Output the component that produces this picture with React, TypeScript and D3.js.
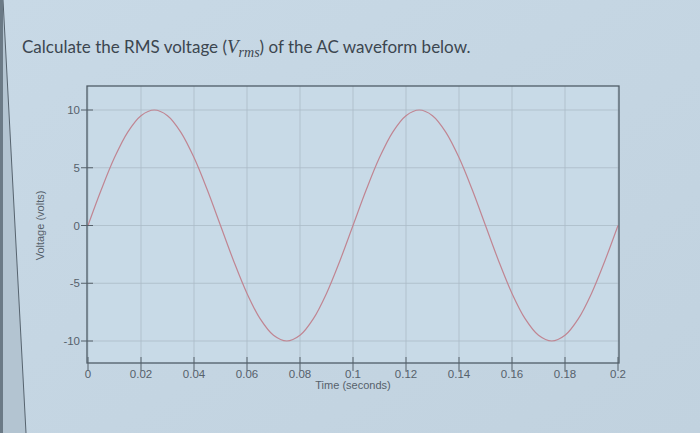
import React from "react";
import * as d3 from "d3";

// Time samples (s) and voltage readings (V)
const times: number[] = [
  0, 0.005, 0.01, 0.015, 0.02, 0.025, 0.03, 0.035, 0.04, 0.045, 0.05,
  0.055, 0.06, 0.065, 0.07, 0.075, 0.08, 0.085, 0.09, 0.095, 0.1,
  0.105, 0.11, 0.115, 0.12, 0.125, 0.13, 0.135, 0.14, 0.145, 0.15,
  0.155, 0.16, 0.165, 0.17, 0.175, 0.18, 0.185, 0.19, 0.195, 0.2,
];
const voltages: number[] = [
  0, 3.09, 5.88, 8.09, 9.51, 10, 9.51, 8.09, 5.88, 3.09, 0,
  -3.09, -5.88, -8.09, -9.51, -10, -9.51, -8.09, -5.88, -3.09, 0,
  3.09, 5.88, 8.09, 9.51, 10, 9.51, 8.09, 5.88, 3.09, 0,
  -3.09, -5.88, -8.09, -9.51, -10, -9.51, -8.09, -5.88, -3.09, 0,
];
const xTicks: number[] = [0, 0.02, 0.04, 0.06, 0.08, 0.1, 0.12, 0.14, 0.16, 0.18, 0.2];
const xTickLabels: string[] = ["0", "0.02", "0.04", "0.06", "0.08", "0.1", "0.12", "0.14", "0.16", "0.18", "0.2"];
const yTicks: number[] = [-10, -5, 0, 5, 10];
const yTickLabels: string[] = ["-10", "-5", "0", "5", "10"];

const W = 700;
const H = 433;
const frame = { left: 87, right: 619, top: 86, bottom: 363 };

export default function App() {
  const x = d3.scaleLinear().domain([0, 0.2]).range([frame.left + 1, frame.right - 1]);
  const y = d3.scaleLinear().domain([-10, 10]).range([341, 110]);
  const pts: [number, number][] = times.map((t, i) => [t, voltages[i]]);
  const line = d3
    .line<[number, number]>()
    .x((d) => x(d[0]))
    .y((d) => y(d[1]))
    .curve(d3.curveCatmullRom.alpha(0.5));

  const tickColor = "#55606a";
  const textColor = "#56616b";
  const gridColor = "#abbbc8";

  return (
    <svg
      width={W}
      height={H}
      style={{ position: "absolute", left: 0, top: 0, display: "block" }}
    >
      <defs>
        <linearGradient id="bg" x1="0" y1="0" x2="1" y2="1">
          <stop offset="0" stopColor="#c8d9e6" />
          <stop offset="1" stopColor="#c1d2df" />
        </linearGradient>
      </defs>
      <rect x={0} y={0} width={W} height={H} fill="url(#bg)" />
      {/* screen edge at left */}
      <polygon points={`0,0 3,0 26,433 0,433`} fill="#b3c4d1" />
      <line x1={3} y1={0} x2={26} y2={433} stroke="#56636e" strokeWidth={1} />
      <rect x={0} y={0} width={3} height={433} fill="#6b7a86" />

      {/* title */}
      <text
        x={22}
        y={53}
        fontFamily="Lato, 'Open Sans', sans-serif"
        fontSize={17}
        fill="#3c4650"
      >
        Calculate the RMS voltage (
        <tspan fontFamily="'Liberation Serif', serif" fontStyle="italic" fontSize={19}>V</tspan>
        <tspan fontFamily="'Liberation Serif', serif" fontStyle="italic" fontSize={14} dy={4}>rms</tspan>
        <tspan dy={-4}>) of the AC waveform below.</tspan>
      </text>

      {/* plot area */}
      <rect
        x={frame.left}
        y={frame.top}
        width={frame.right - frame.left}
        height={frame.bottom - frame.top}
        fill="#c8dae7"
      />
      {/* grid */}
      {xTicks.map((t, i) => (
        <line key={"gx" + i} x1={x(t)} x2={x(t)} y1={frame.top} y2={frame.bottom} stroke={gridColor} strokeWidth={0.8} />
      ))}
      {yTicks.map((v, i) => (
        <line key={"gy" + i} x1={frame.left} x2={frame.right} y1={y(v)} y2={y(v)} stroke={gridColor} strokeWidth={0.8} />
      ))}

      {/* waveform */}
      <path d={line(pts) || ""} fill="none" stroke="#c08592" strokeWidth={1.2} />

      {/* frame */}
      <rect
        x={frame.left}
        y={frame.top}
        width={frame.right - frame.left}
        height={frame.bottom - frame.top}
        fill="none"
        stroke="#4f5c67"
        strokeWidth={1.3}
      />

      {/* y ticks */}
      {yTicks.map((v, i) => (
        <g key={"ty" + i}>
          <line x1={frame.left - 6} x2={frame.left + 6} y1={y(v)} y2={y(v)} stroke={tickColor} strokeWidth={1} />
          <text
            x={frame.left - 7}
            y={y(v)}
            dy="0.35em"
            textAnchor="end"
            fontFamily="'Liberation Sans', Arial, sans-serif"
            fontSize={11.5}
            fill={textColor}
          >
            {yTickLabels[i]}
          </text>
        </g>
      ))}

      {/* x ticks */}
      {xTicks.map((t, i) => (
        <g key={"tx" + i}>
          <line x1={x(t)} x2={x(t)} y1={frame.bottom - 6} y2={frame.bottom + 8} stroke={tickColor} strokeWidth={1} />
          <text
            x={x(t)}
            y={frame.bottom + 15}
            textAnchor="middle"
            fontFamily="'Liberation Sans', Arial, sans-serif"
            fontSize={11.5}
            fill={textColor}
          >
            {xTickLabels[i]}
          </text>
        </g>
      ))}

      {/* axis labels */}
      <text
        x={(frame.left + frame.right) / 2}
        y={frame.bottom + 26}
        textAnchor="middle"
        fontFamily="'Liberation Sans', Arial, sans-serif"
        fontSize={11}
        fill={textColor}
      >
        Time (seconds)
      </text>
      <text
        transform={`translate(44, ${y(0)}) rotate(-90)`}
        textAnchor="middle"
        fontFamily="'Liberation Sans', Arial, sans-serif"
        fontSize={11}
        fill={textColor}
      >
        Voltage (volts)
      </text>
    </svg>
  );
}
